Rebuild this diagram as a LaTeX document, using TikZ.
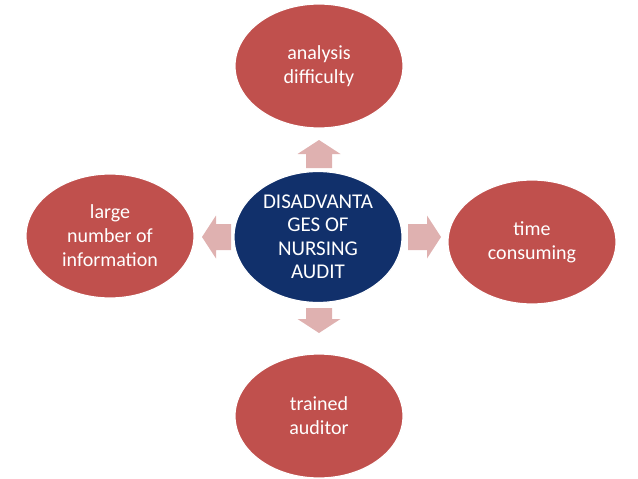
\documentclass[tikz,border=0pt]{standalone}
\usepackage{fontspec}
\setmainfont{Carlito}
\definecolor{redE}{HTML}{C0504D}
\definecolor{navyE}{HTML}{11306B}
\definecolor{arrE}{HTML}{DFB1B0}
\begin{document}
\begin{tikzpicture}[x=1pt,y=-1pt,
  oval/.style={ellipse,fill=redE,draw=white,line width=1.2pt,minimum width=168pt,minimum height=124pt,inner sep=0pt,text=white,align=center,font=\fontsize{20}{24}\selectfont},
  hub/.style={ellipse,fill=navyE,draw=white,line width=1.2pt,minimum width=168pt,minimum height=131pt,inner sep=0pt,text=white,align=center,font=\fontsize{21}{23.5}\selectfont},
  blk/.style={fill=arrE}]
\usetikzlibrary{shapes.geometric}
\useasboundingbox (0,0) rectangle (638,479);
\node[hub] (c) at (318,237) {DISADVANTA\\GES OF\\NURSING\\AUDIT};
\node[oval] (t) at (319,66) {analysis\\difficulty};
\node[oval] (l) at (110,236) {large\\number of\\information};
\node[oval] (r) at (532,242) {time\\consuming};
\node[oval] (b) at (319,416) {trained\\auditor};
% block arrows
\coordinate (ta) at (319,140);
\fill[blk] (ta) ++(-21.5,14) -- ++(21.5,-14) -- ++(21.5,14) -- ++(-8.5,0) -- ++(0,14) -- ++(-26,0) -- ++(0,-14) -- cycle;
\coordinate (ba) at (319,333);
\fill[blk] (ba) ++(-21.5,-14) -- ++(21.5,14) -- ++(21.5,-14) -- ++(-8.5,0) -- ++(0,-11) -- ++(-26,0) -- ++(0,11) -- cycle;
\coordinate (la) at (202,237);
\fill[blk] (la) ++(14,-21.5) -- ++(-14,21.5) -- ++(14,21.5) -- ++(0,-8.5) -- ++(15,0) -- ++(0,-26) -- ++(-15,0) -- cycle;
\coordinate (ra) at (441,237);
\fill[blk] (ra) ++(-14,-21.5) -- ++(14,21.5) -- ++(-14,21.5) -- ++(0,-8.5) -- ++(-19,0) -- ++(0,-26) -- ++(19,0) -- cycle;
\end{tikzpicture}
\end{document}
